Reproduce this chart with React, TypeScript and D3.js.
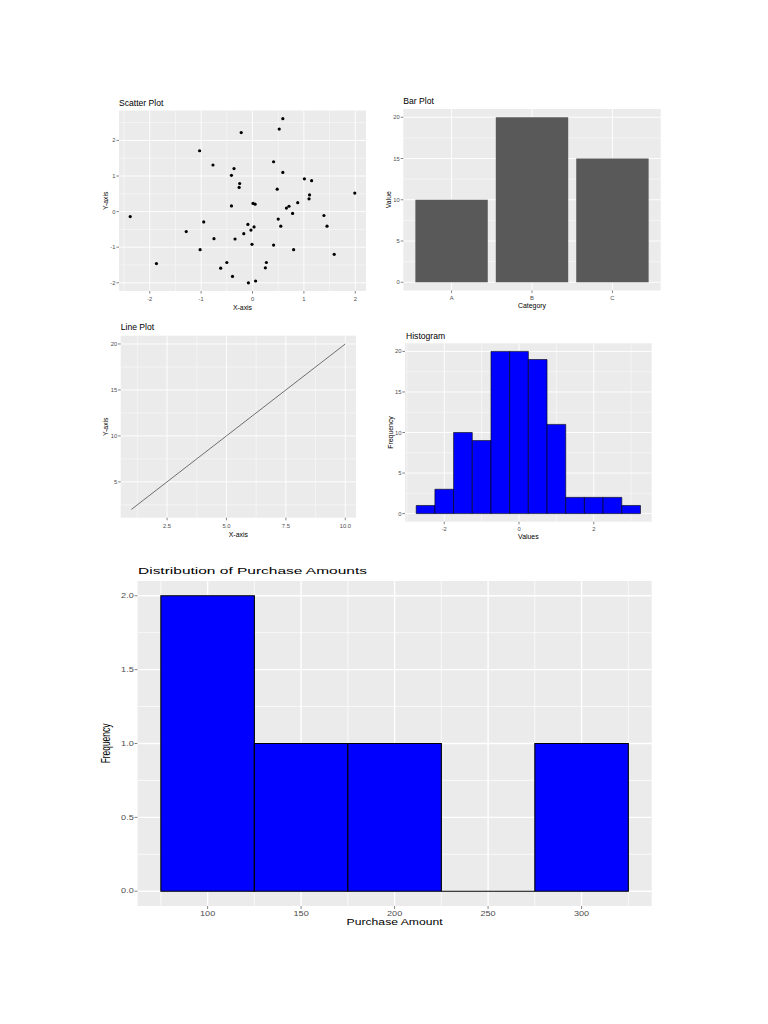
import React from "react";
import * as d3 from "d3";

const FONT = "'Liberation Sans', Arial, Helvetica, sans-serif";
const PANEL_BG = "#EBEBEB";
const TICK_TEXT = "#4D4D4D";
const TICK_LINE = "#333333";

// ---------- data ----------
const scatterX = [-2.38, -1.87, -1.29, -1.03, -1.02, -0.95, -0.77, -0.75, -0.62, -0.5, -0.41, -0.36, -0.41, -0.39, -0.34, -0.25, -0.26, -0.22, -0.17, -0.09, -0.08, -0.03, -0.01, 0.01, 0.03, 0.05, 0.06, 0.25, 0.27, 0.41, 0.41, 0.48, 0.5, 0.52, 0.55, 0.59, 0.59, 0.66, 0.71, 0.78, 0.8, 0.88, 1.01, 1.1, 1.11, 1.15, 1.39, 1.45, 1.59, 1.99];
const scatterY = [-0.14, -1.46, -0.56, 1.71, -1.07, -0.29, 1.31, -0.76, -1.59, -1.43, 1.02, 1.21, 0.16, -1.82, -0.77, 0.79, 0.68, 2.22, -0.62, -0.36, -2.0, -0.52, -0.92, 0.23, -0.43, 0.21, -1.95, -1.58, -1.43, 1.4, -0.94, 0.63, -0.21, 2.32, -0.41, 1.1, 2.61, 0.1, 0.15, -0.05, -1.07, 0.25, 0.92, 0.36, 0.47, 0.87, -0.11, -0.41, -1.2, 0.52];
const scatterXTicks = [-2, -1, 0, 1, 2];
const scatterYTicks = [-2, -1, 0, 1, 2];

const barCategories = ["A", "B", "C"];
const barValues = [10, 20, 15];
const barYTicks = [0, 5, 10, 15, 20];

const lineX = [1, 2, 3, 4, 5, 6, 7, 8, 9, 10];
const lineY = [2, 4, 6, 8, 10, 12, 14, 16, 18, 20];
const lineXTicks = [2.5, 5, 7.5, 10];
const lineXTickLabels = ["2.5", "5.0", "7.5", "10.0"];
const lineYTicks = [5, 10, 15, 20];

const histBinStarts = [-2.75, -2.25, -1.75, -1.25, -0.75, -0.25, 0.25, 0.75, 1.25, 1.75, 2.25, 2.75];
const histCounts = [1, 3, 10, 9, 20, 20, 19, 11, 2, 2, 2, 1];
const histBinWidth = 0.5;
const histXTicks = [-2, 0, 2];
const histYTicks = [0, 5, 10, 15, 20];

const purchaseBinStarts = [75, 125, 175, 225, 275];
const purchaseCounts = [2, 1, 1, 0, 1];
const purchaseBinWidth = 50;
const purchaseXTicks = [100, 150, 200, 250, 300];
const purchaseYTicks = [0, 0.5, 1.0, 1.5, 2.0];
const purchaseYTickLabels = ["0.0", "0.5", "1.0", "1.5", "2.0"];

// ---------- helpers ----------
function expand(min: number, max: number, mult = 0.05): [number, number] {
  const pad = (max - min) * mult;
  return [min - pad, max + pad];
}

type TxtProps = {
  x: number; y: number; sx?: number; rotate?: number; anchor?: string;
  size: number; fill?: string; children: any; textLength?: number;
};
function Txt({ x, y, sx = 1, rotate = 0, anchor = "middle", size, fill = "#000", children, textLength }: TxtProps) {
  let tr = `translate(${x},${y})`;
  if (sx !== 1) tr += ` scale(${sx},1)`;
  if (rotate) tr += ` rotate(${rotate})`;
  return (
    <text
      transform={tr}
      textAnchor={anchor}
      fontSize={size}
      fill={fill}
      dy="0.35em"
      fontFamily={FONT}
      textLength={textLength}
      lengthAdjust={textLength ? "spacingAndGlyphs" : undefined}
    >
      {children}
    </text>
  );
}

type Tick = { p: number; label: string };
type PanelProps = {
  left: number; right: number; top: number; bottom: number;
  xMajor: number[]; xMinor: number[]; yMajor: number[]; yMinor: number[];
  xTicks: Tick[]; yTicks: Tick[];
  title: string; titleX: number; titleY: number; titleSize: number; titleLength?: number;
  xTitle: string; xTitleY: number; yTitle: string; yTitleX: number;
  tickSize: number; axisSize: number; xLabelY: number; yLabelX: number;
  majorW: number; minorW: number; tickLen: number; sx?: number;
  children?: any;
};

function Panel(p: PanelProps) {
  const sx = p.sx ?? 1;
  return (
    <g>
      <rect x={p.left} y={p.top} width={p.right - p.left} height={p.bottom - p.top} fill={PANEL_BG} />
      {p.xMinor.map((v, i) => (
        <line key={"xm" + i} x1={v} x2={v} y1={p.top} y2={p.bottom} stroke="#fff" strokeWidth={p.minorW} />
      ))}
      {p.yMinor.map((v, i) => (
        <line key={"ym" + i} x1={p.left} x2={p.right} y1={v} y2={v} stroke="#fff" strokeWidth={p.minorW} />
      ))}
      {p.xMajor.map((v, i) => (
        <line key={"xM" + i} x1={v} x2={v} y1={p.top} y2={p.bottom} stroke="#fff" strokeWidth={p.majorW} />
      ))}
      {p.yMajor.map((v, i) => (
        <line key={"yM" + i} x1={p.left} x2={p.right} y1={v} y2={v} stroke="#fff" strokeWidth={p.majorW} />
      ))}
      {p.children}
      {p.xTicks.map((t, i) => (
        <g key={"xt" + i}>
          <line x1={t.p} x2={t.p} y1={p.bottom} y2={p.bottom + p.tickLen} stroke={TICK_LINE} strokeWidth={0.6} />
          <Txt x={t.p} y={p.xLabelY} size={p.tickSize} fill={TICK_TEXT} sx={sx}>{t.label}</Txt>
        </g>
      ))}
      {p.yTicks.map((t, i) => (
        <g key={"yt" + i}>
          <line x1={p.left - p.tickLen} x2={p.left} y1={t.p} y2={t.p} stroke={TICK_LINE} strokeWidth={0.6} />
          <Txt x={p.yLabelX} y={t.p} size={p.tickSize} fill={TICK_TEXT} anchor="end" sx={sx}>{t.label}</Txt>
        </g>
      ))}
      <Txt x={p.titleX} y={p.titleY} size={p.titleSize} anchor="start" textLength={p.titleLength}>{p.title}</Txt>
      <Txt x={(p.left + p.right) / 2} y={p.xTitleY} size={p.axisSize} sx={sx}>{p.xTitle}</Txt>
      <Txt x={p.yTitleX} y={(p.top + p.bottom) / 2} size={p.axisSize} rotate={-90} sx={sx}>{p.yTitle}</Txt>
    </g>
  );
}

const mid = (a: number[]) => a.slice(0, -1).map((v, i) => (v + a[i + 1]) / 2);

function rectPath(x0: number, x1: number, y0: number, y1: number) {
  return `M${x0},${y0}H${x1}V${y1}H${x0}Z`;
}

// ---------- charts ----------
function ScatterChart() {
  const L = 119, R = 366, T = 110.5, B = 291;
  const x = d3.scaleLinear().domain(expand(d3.min(scatterX)!, d3.max(scatterX)!)).range([L, R]);
  const y = d3.scaleLinear().domain(expand(d3.min(scatterY)!, d3.max(scatterY)!)).range([B, T]);
  const xMinorV = [-2.5, ...mid(scatterXTicks)];
  const yMinorV = [...mid(scatterYTicks), 2.5];
  return (
    <Panel
      left={L} right={R} top={T} bottom={B}
      xMajor={scatterXTicks.map(x)} xMinor={xMinorV.map(x)}
      yMajor={scatterYTicks.map(y)} yMinor={yMinorV.map(y)}
      xTicks={scatterXTicks.map((v) => ({ p: x(v), label: String(v) }))}
      yTicks={scatterYTicks.map((v) => ({ p: y(v), label: String(v) }))}
      title="Scatter Plot" titleX={L} titleY={103.3} titleSize={8.6}
      xTitle="X-axis" xTitleY={307.3} yTitle="Y-axis" yTitleX={106}
      tickSize={5.8} axisSize={6.9} xLabelY={299.3} yLabelX={115.5}
      majorW={0.9} minorW={0.45} tickLen={2.6}
    >
      {scatterX.map((v, i) => (
        <circle key={i} cx={x(v)} cy={y(scatterY[i])} r={1.6} fill="#000" />
      ))}
    </Panel>
  );
}

function BarChart() {
  const L = 403.3, R = 660.7, T = 109, B = 290.5;
  const x = d3.scaleBand<string>().domain(barCategories).range([L, R]).paddingInner(0.1).paddingOuter(0.15);
  const y = d3.scaleLinear().domain(expand(0, d3.max(barValues)!)).range([B, T]);
  const cx = (c: string) => x(c)! + x.bandwidth() / 2;
  return (
    <Panel
      left={L} right={R} top={T} bottom={B}
      xMajor={barCategories.map(cx)} xMinor={[]}
      yMajor={barYTicks.map(y)} yMinor={mid(barYTicks).map(y)}
      xTicks={barCategories.map((c) => ({ p: cx(c), label: c }))}
      yTicks={barYTicks.map((v) => ({ p: y(v), label: String(v) }))}
      title="Bar Plot" titleX={L} titleY={100.7} titleSize={8.6}
      xTitle="Category" xTitleY={306} yTitle="Value" yTitleX={388.3}
      tickSize={5.8} axisSize={6.9} xLabelY={297.5} yLabelX={399.8}
      majorW={0.9} minorW={0.45} tickLen={2.6}
    >
      {barCategories.map((c, i) => (
        <rect key={c} x={x(c)} width={x.bandwidth()} y={y(barValues[i])} height={y(0) - y(barValues[i])} fill="#595959" />
      ))}
    </Panel>
  );
}

function LineChart() {
  const L = 120.7, R = 356, T = 335.7, B = 517.7;
  const x = d3.scaleLinear().domain(expand(d3.min(lineX)!, d3.max(lineX)!)).range([L, R]);
  const y = d3.scaleLinear().domain(expand(d3.min(lineY)!, d3.max(lineY)!)).range([B, T]);
  const line = d3.line<number>().x((_, i) => x(lineX[i])).y((v) => y(v));
  const xMinorV = [1.25, ...mid(lineXTicks)];
  const yMinorV = [2.5, ...mid(lineYTicks)];
  return (
    <Panel
      left={L} right={R} top={T} bottom={B}
      xMajor={lineXTicks.map(x)} xMinor={xMinorV.map(x)}
      yMajor={lineYTicks.map(y)} yMinor={yMinorV.map(y)}
      xTicks={lineXTicks.map((v, i) => ({ p: x(v), label: lineXTickLabels[i] }))}
      yTicks={lineYTicks.map((v) => ({ p: y(v), label: String(v) }))}
      title="Line Plot" titleX={L} titleY={326.7} titleSize={8.6}
      xTitle="X-axis" xTitleY={534.3} yTitle="Y-axis" yTitleX={106}
      tickSize={5.8} axisSize={6.9} xLabelY={525.7} yLabelX={117.2}
      majorW={0.9} minorW={0.45} tickLen={2.6}
    >
      <path d={line(lineY) || ""} fill="none" stroke="#1a1a1a" strokeWidth={0.6} />
    </Panel>
  );
}

function HistChart() {
  const L = 405, R = 651.7, T = 343.3, B = 521.7;
  const lo = d3.min(histBinStarts)!;
  const hi = d3.max(histBinStarts)! + histBinWidth;
  const x = d3.scaleLinear().domain(expand(lo, hi)).range([L, R]);
  const y = d3.scaleLinear().domain(expand(0, d3.max(histCounts)!)).range([B, T]);
  const xMinorV = [-3, -1, 1, 3];
  return (
    <Panel
      left={L} right={R} top={T} bottom={B}
      xMajor={histXTicks.map(x)} xMinor={xMinorV.map(x)}
      yMajor={histYTicks.map(y)} yMinor={mid(histYTicks).map(y)}
      xTicks={histXTicks.map((v) => ({ p: x(v), label: String(v) }))}
      yTicks={histYTicks.map((v) => ({ p: y(v), label: String(v) }))}
      title="Histogram" titleX={406} titleY={335.7} titleSize={8.6}
      xTitle="Values" xTitleY={536.7} yTitle="Frequency" yTitleX={390.7}
      tickSize={5.8} axisSize={6.9} xLabelY={529} yLabelX={401.5}
      majorW={0.9} minorW={0.45} tickLen={2.6}
    >
      {histBinStarts.map((s, i) => (
        <path key={i} d={rectPath(x(s), x(s + histBinWidth), y(0), y(histCounts[i]))} fill="#0000FF" stroke="#000" strokeWidth={0.6} />
      ))}
    </Panel>
  );
}

function PurchaseChart() {
  const L = 137.5, R = 651.7, T = 581, B = 906;
  const lo = d3.min(purchaseBinStarts)!;
  const hi = d3.max(purchaseBinStarts)! + purchaseBinWidth;
  const x = d3.scaleLinear().domain(expand(lo, hi)).range([L, R]);
  const y = d3.scaleLinear().domain(expand(0, d3.max(purchaseCounts)!)).range([B, T]);
  const xMinorV = [75, ...mid(purchaseXTicks), 325];
  const yMinorV = mid(purchaseYTicks);
  return (
    <Panel
      left={L} right={R} top={T} bottom={B}
      xMajor={purchaseXTicks.map(x)} xMinor={xMinorV.map(x)}
      yMajor={purchaseYTicks.map(y)} yMinor={yMinorV.map(y)}
      xTicks={purchaseXTicks.map((v) => ({ p: x(v), label: String(v) }))}
      yTicks={purchaseYTicks.map((v, i) => ({ p: y(v), label: purchaseYTickLabels[i] }))}
      title="Distribution of Purchase Amounts" titleX={138} titleY={571} titleSize={9.8} titleLength={229}
      xTitle="Purchase Amount" xTitleY={922.5} yTitle="Frequency" yTitleX={105.5}
      tickSize={6.3} axisSize={8.4} xLabelY={913.3} yLabelX={133.8}
      majorW={1.4} minorW={0.7} tickLen={3} sx={1.45}
    >
      {purchaseBinStarts.map((s, i) => (
        <path key={i} d={rectPath(x(s), x(s + purchaseBinWidth), y(0), y(purchaseCounts[i]))} fill="#0000FF" stroke="#000" strokeWidth={1.1} />
      ))}
    </Panel>
  );
}

export default function App() {
  return (
    <svg
      width={768}
      height={1024}
      viewBox="0 0 768 1024"
      style={{ position: "absolute", left: 0, top: 0, background: "#fff" }}
    >
      <rect width={768} height={1024} fill="#fff" />
      <ScatterChart />
      <BarChart />
      <LineChart />
      <HistChart />
      <PurchaseChart />
    </svg>
  );
}
